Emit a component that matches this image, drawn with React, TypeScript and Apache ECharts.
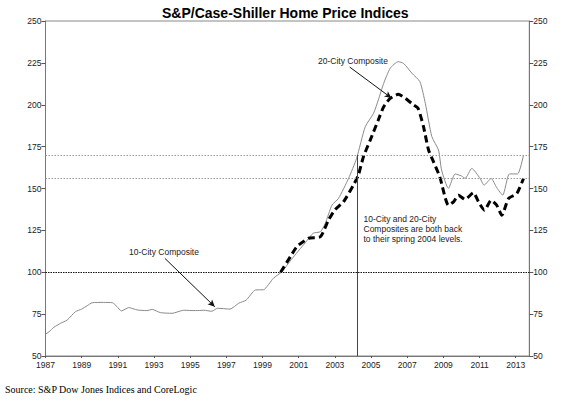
import React, { useEffect, useRef } from "react";
import * as echarts from "echarts";

const BASE_YEAR = 1987;
const X_MAX_YEAR = 2013.75;
const Y_TICKS = [50, 250, 25];

const city10Years = [1987.0, 1987.2, 1987.46, 1987.83, 1988.2, 1988.66, 1989.0, 1989.3, 1989.58, 1990.2, 1990.7, 1990.95, 1991.2, 1991.6, 1992.07, 1992.6, 1992.9, 1993.35, 1994.0, 1994.64, 1995.29, 1995.75, 1996.2, 1996.5, 1997.2, 1997.68, 1998.1, 1998.6, 1999.06, 1999.6, 2000.07, 2000.6, 2001.36, 2001.8, 2002.2, 2002.47, 2002.84, 2003.2, 2003.76, 2004.2, 2004.68, 2005.14, 2005.4, 2005.7, 2006.06, 2006.5, 2006.8, 2007.26, 2007.7, 2008.0, 2008.36, 2008.73, 2008.9, 2009.28, 2009.65, 2010.0, 2010.2, 2010.57, 2011.03, 2011.25, 2011.64, 2011.95, 2012.28, 2012.65, 2013.1, 2013.43];
const city10Values = [63, 64.5, 67.1, 69.5, 71.5, 76.5, 78, 80, 81.8, 82, 81.8, 79.5, 76.9, 78.9, 77.5, 77.1, 77.8, 75.9, 75.5, 77.3, 77.1, 77.3, 76.7, 78.5, 78, 81.5, 83.4, 89.4, 89.6, 96.4, 100.3, 107.7, 117.6, 123.3, 124.2, 129.2, 140.1, 144.1, 156.1, 168, 186.9, 194.9, 202.8, 212.8, 221.8, 225.7, 224.7, 218.8, 213.8, 200.9, 181, 173, 161, 150.1, 158.7, 157.5, 156, 162, 156, 152, 156, 150.5, 146, 158.7, 158.7, 170];

const city20Years = [2000.0, 2000.54, 2000.9, 2001.55, 2002.2, 2002.65, 2003.0, 2003.48, 2004.03, 2004.3, 2004.58, 2004.96, 2005.4, 2005.7, 2006.06, 2006.5, 2006.9, 2007.35, 2007.6, 2007.9, 2008.18, 2008.45, 2008.8, 2009.28, 2009.56, 2009.83, 2010.2, 2010.66, 2010.94, 2011.27, 2011.64, 2011.95, 2012.23, 2012.6, 2013.06, 2013.43];
const city20Values = [100, 109.3, 115.3, 120.3, 121.2, 131.2, 137.2, 142.1, 152.1, 158, 169, 179, 190.9, 198.8, 203.8, 206.2, 203.8, 199.9, 197.9, 186.9, 173, 166, 157, 140, 142, 146, 143.5, 147.5, 142, 137, 143, 140, 134, 144, 147, 156];

const refLevels = [170, 156];
const baseLevel = 100;
const spring2004 = 2004.25;

const arrow20 = [[2003.82, 222.5], [2006.13, 204]];
const arrow10 = [[1993.6, 108.3], [1996.36, 79.4]];

const TITLE = "S&P/Case-Shiller Home Price Indices";
const SOURCE = "Source: S&P Dow Jones Indices and CoreLogic";
const LABEL20 = "20-City Composite";
const LABEL10 = "10-City Composite";
const NOTE = ["10-City and 20-City", "Composites are both back", "to their spring 2004 levels."];

const off = (y: number) => y - BASE_YEAR;

export default function App() {
  const ref = useRef<HTMLDivElement>(null);
  useEffect(() => {
    if (!ref.current) return;
    const chart = echarts.init(ref.current, null, { renderer: "svg" });
    const axisFont = { fontFamily: "Arial, 'Liberation Sans', sans-serif", fontSize: 8.5, color: "#222" };
    const yAxisBase = {
      type: "value",
      min: Y_TICKS[0],
      max: Y_TICKS[1],
      interval: Y_TICKS[2],
      splitLine: { show: false },
      axisLine: { show: true, lineStyle: { color: "#777", width: 1 } },
      axisTick: { show: true, length: 4, lineStyle: { color: "#555" } },
      axisLabel: { ...axisFont, margin: 4 },
    };
    const textFont = "Arial, 'Liberation Sans', sans-serif";
    chart.setOption({
      animation: false,
      backgroundColor: "#fff",
      title: {
        text: TITLE,
        left: 157,
        top: 1,
        textStyle: { fontFamily: textFont, fontSize: 14, fontWeight: "bold", color: "#000" },
      },
      grid: { left: 45.5, right: 41.7, top: 21, bottom: 45, show: true, borderColor: "#888", borderWidth: 1 },
      xAxis: {
        type: "value",
        min: 0,
        max: off(X_MAX_YEAR),
        interval: 2,
        splitLine: { show: false },
        axisLine: { show: true, lineStyle: { color: "#777" } },
        axisTick: { show: true, length: 2, lineStyle: { color: "#555" } },
        axisLabel: {
          ...axisFont,
          margin: 4,
          showMaxLabel: false,
          formatter: (v: number) => (Math.abs(v % 2) < 1e-6 ? String(BASE_YEAR + v) : ""),
        },
      },
      yAxis: [
        { ...yAxisBase, position: "left" },
        { ...yAxisBase, position: "right" },
      ],
      series: [
        {
          name: LABEL10,
          type: "line",
          data: city10Years.map((y, i) => [off(y), city10Values[i]]),
          showSymbol: false,
          smooth: 0.2,
          lineStyle: { color: "#8a8a8a", width: 1 },
          z: 3,
          markLine: {
            silent: true,
            symbol: "none",
            label: { show: false },
            data: [
              ...refLevels.map((v) => ({ yAxis: v, lineStyle: { color: "#999", type: [1.5, 1.5], width: 1 } })),
              { yAxis: baseLevel, lineStyle: { color: "#111", type: [1.5, 1], width: 1 } },
              [
                { coord: [off(spring2004), Y_TICKS[0]], lineStyle: { color: "#444", type: "solid", width: 1 } },
                { coord: [off(spring2004), refLevels[0]] },
              ],
            ],
          },
        },
        {
          name: LABEL20,
          type: "line",
          data: city20Years.map((y, i) => [off(y), city20Values[i]]),
          showSymbol: false,
          smooth: 0.2,
          lineStyle: { color: "#000", width: 3, type: [7, 4] },
          z: 4,
          markLine: {
            silent: true,
            symbol: ["none", "arrow"],
            symbolSize: [5, 7],
            label: { show: false },
            lineStyle: { color: "#111", type: "solid", width: 1 },
            data: [arrow20, arrow10].map((a) => [
              { coord: [off(a[0][0]), a[0][1]] },
              { coord: [off(a[1][0]), a[1][1]] },
            ]),
          },
        },
      ],
      graphic: [
        {
          type: "text",
          x: 318,
          y: 61,
          style: { text: LABEL20, fontFamily: textFont, fontSize: 8.5, fill: "#222", verticalAlign: "middle" },
        },
        {
          type: "text",
          x: 129,
          y: 251.7,
          style: { text: LABEL10, fontFamily: textFont, fontSize: 8.5, fill: "#222", verticalAlign: "middle" },
        },
        ...NOTE.map((t, i) => ({
          type: "text",
          x: 363.5,
          y: 219.3 + i * 9.7,
          style: { text: t, fontFamily: textFont, fontSize: 8.5, fill: "#222", verticalAlign: "middle" },
        })),
        {
          type: "text",
          x: 5,
          y: 389,
          style: { text: SOURCE, fontFamily: "'Liberation Serif', 'Times New Roman', serif", fontSize: 10, fill: "#000", verticalAlign: "middle" },
        },
      ],
    });
    return () => chart.dispose();
  }, []);
  return <div ref={ref} style={{ position: "fixed", left: 0, top: 0, width: 571, height: 401 }} />;
}
